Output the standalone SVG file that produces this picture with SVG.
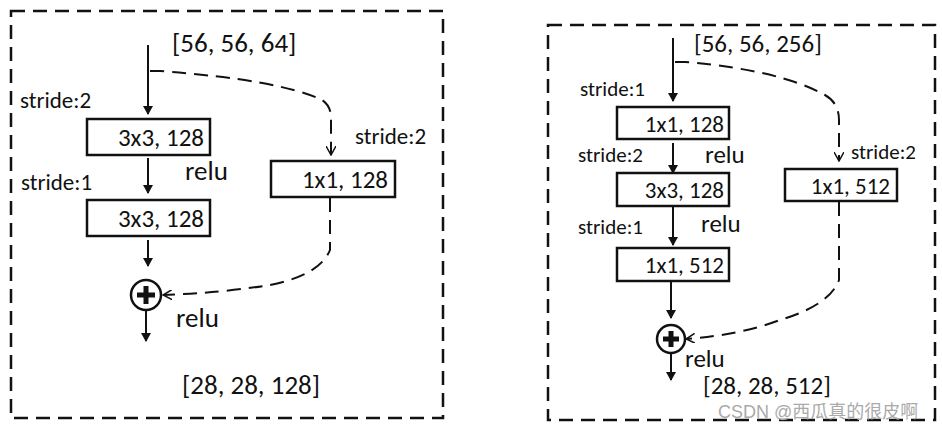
<svg xmlns="http://www.w3.org/2000/svg" width="942" height="429" viewBox="0 0 942 429">
<style>
.frame{fill:none;stroke:#111;stroke-width:2.5;stroke-dasharray:14 8}
.box{fill:#fff;stroke:#111;stroke-width:2.5}
.ln{fill:none;stroke:#111;stroke-width:2}
.dl{fill:none;stroke:#111;stroke-width:2;stroke-dasharray:14 8}
text{font-family:Calibri,Carlito,"Liberation Sans",Arial,sans-serif;fill:#111}
.b{font-size:25px;text-anchor:end}
.br{font-size:23px;text-anchor:end}
.s{font-size:23px}
.sr{font-size:21px}
.t{font-size:27px}
.tr{font-size:25px}
</style>
<defs>
<marker id="a" markerWidth="10" markerHeight="10" refX="8" refY="5" orient="auto" markerUnits="userSpaceOnUse"><path d="M0,0 L9,5 L0,10 Z" fill="#111"/></marker>
<marker id="o" markerWidth="10" markerHeight="10" refX="9" refY="5" orient="auto" markerUnits="userSpaceOnUse"><path d="M0,0 L9,5 L0,10" fill="none" stroke="#111" stroke-width="1.5"/></marker>
</defs>
<rect width="942" height="429" fill="#fff"/>
<rect class="frame" x="11" y="11" width="432" height="407"/>
<rect class="frame" x="548" y="25" width="387" height="395"/>
<g id="connectors">
<line class="ln" x1="148" y1="45" x2="148" y2="114" marker-end="url(#a)"/>
<line class="ln" x1="148" y1="158" x2="148" y2="193" marker-end="url(#a)"/>
<line class="ln" x1="148" y1="240" x2="148" y2="266" marker-end="url(#a)"/>
<line class="ln" x1="146" y1="310" x2="146" y2="341" marker-end="url(#a)"/>
<path class="dl" d="M150,71 H160 Q280,80 322,100 Q331,106 331,118 V155" marker-end="url(#o)"/>
<path class="dl" d="M330,198 V250 Q320,275 270,285 Q220,293 163,295" marker-end="url(#o)"/>
<line class="ln" x1="673" y1="38" x2="673" y2="101" marker-end="url(#a)"/>
<line class="ln" x1="673" y1="143" x2="673" y2="173" marker-end="url(#a)"/>
<line class="ln" x1="673" y1="206" x2="673" y2="245" marker-end="url(#a)"/>
<line class="ln" x1="671" y1="281" x2="671" y2="318" marker-end="url(#a)"/>
<line class="ln" x1="671" y1="353" x2="671" y2="380" marker-end="url(#a)"/>
<path class="dl" d="M675,62 H685 Q780,70 825,95 Q839,103 839,120 V161" marker-end="url(#o)"/>
<path class="dl" d="M839,202 V280 Q830,305 780,320 Q740,335 686,339" marker-end="url(#o)"/>
</g>
<g id="n1"><rect class="box" x="87" y="119" width="123" height="36"/><text class="b" x="204" y="146">3x3, 128</text></g>
<g id="n2"><rect class="box" x="87" y="200" width="123" height="36"/><text class="b" x="204" y="227">3x3, 128</text></g>
<g id="n3"><rect class="box" x="271" y="161" width="124" height="36"/><text class="b" x="388" y="188">1x1, 128</text></g>
<g id="add1"><circle cx="146" cy="295" r="15" fill="#fff" stroke="#111" stroke-width="2.5"/><path d="M146,286 V304 M137,295 H155" stroke="#111" stroke-width="5"/></g>
<g id="n4"><rect class="box" x="617" y="107" width="112" height="32"/><text class="br" x="724" y="132">1x1, 128</text></g>
<g id="n5"><rect class="box" x="617" y="173" width="112" height="33"/><text class="br" x="724" y="198">3x3, 128</text></g>
<g id="n6"><rect class="box" x="617" y="248" width="112" height="33"/><text class="br" x="724" y="273">1x1, 512</text></g>
<g id="n7"><rect class="box" x="785" y="169" width="112" height="32"/><text class="br" x="890" y="194">1x1, 512</text></g>
<g id="add2"><circle cx="671" cy="339" r="14" fill="#fff" stroke="#111" stroke-width="2.5"/><path d="M671,331 V347 M663,339 H679" stroke="#111" stroke-width="5"/></g>
<g id="labels">
<text class="t" x="172" y="52">[56, 56, 64]</text>
<text class="s" x="20" y="108">stride:2</text>
<text class="s" x="21" y="190">stride:1</text>
<text class="t" x="185" y="180">relu</text>
<text class="s" x="355" y="144">stride:2</text>
<text class="t" x="176" y="327">relu</text>
<text class="t" x="182" y="394">[28, 28, 128]</text>
<text class="tr" x="694" y="52">[56, 56, 256]</text>
<text class="sr" x="580" y="96">stride:1</text>
<text class="sr" x="578" y="162">stride:2</text>
<text class="tr" x="705" y="163">relu</text>
<text class="sr" x="578" y="234">stride:1</text>
<text class="tr" x="701" y="232">relu</text>
<text class="sr" x="851" y="159">stride:2</text>
<text class="tr" x="685" y="367">relu</text>
<text class="tr" x="703" y="394">[28, 28, 512]</text>
<text x="718" y="418" style="font-size:18px;fill:#aaa;font-family:'Liberation Sans','Noto Sans CJK SC',sans-serif">CSDN @西瓜真的很皮啊</text>
</g>
</svg>
